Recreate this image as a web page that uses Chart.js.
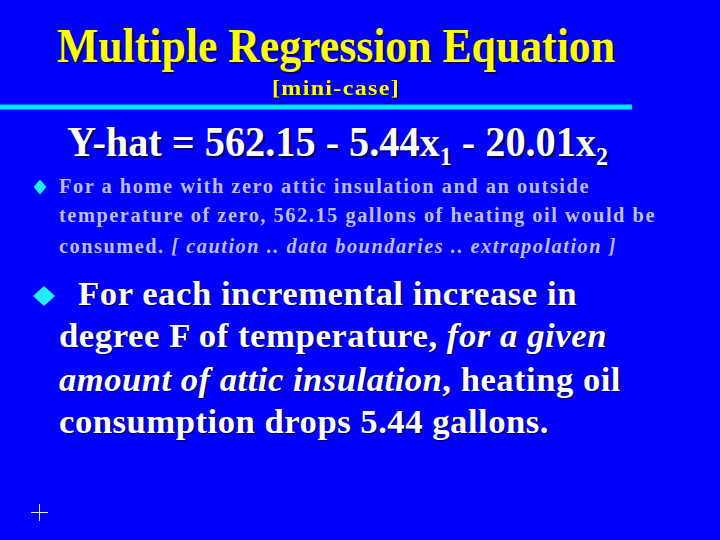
<!DOCTYPE html>
<html>
<head>
<meta charset="utf-8">
<script src="https://cdn.jsdelivr.net/npm/chart.js@4.4.1/dist/chart.umd.min.js"></script>
<style>
  html, body { margin: 0; padding: 0; }
  body { width: 720px; height: 540px; overflow: hidden; background: #0000fe; position: relative;
         font-family: "Liberation Serif", "Times New Roman", serif; }
  .ln { position: absolute; white-space: nowrap; line-height: 1; transform-origin: 0 0; }
  .title { color: #ffff00; font-weight: bold; font-size: 48px; text-shadow: 2px 2px 1px rgba(0,0,40,0.7); }
  .sub { color: #ffff00; font-weight: bold; font-size: 22px; letter-spacing: 1.2px; text-shadow: 1px 1px 1px rgba(0,0,40,0.7); }
  .eq { color: #ffffff; font-weight: bold; font-size: 42px; text-shadow: 2px 2px 1px rgba(0,0,40,0.7); }
  .eq .s { font-size: 25px; position: relative; top: 9px; }
  .b1 { color: #bdbde6; font-weight: bold; font-size: 20px; letter-spacing: 1.5px; }
  .b2 { color: #ffffff; font-weight: bold; font-size: 34px; letter-spacing: 0.5px; text-shadow: 1px 1px 1px rgba(0,0,40,0.8); }
  .dia { position: absolute; background: #22eeff; clip-path: polygon(50% 0, 100% 50%, 50% 100%, 0 50%); }
  #ruleWrap { position: absolute; left: 0; top: 97px; width: 632px; height: 20px; }
  .plus { position: absolute; background: #e8e8ff; }
</style>
</head>
<body>
<div id="ruleWrap"><canvas id="rule" width="632" height="20"></canvas></div>
<div id="slide"></div>
<script>
// ---- content (text lines and coefficients) ----
const titleText = "Multiple Regression Equation";
const subtitleText = "[mini-case]";
const intercept = "562.15";
const coefNames = ["x", "x"];
const coefSubs = ["1", "2"];
const coefValues = ["5.44", "20.01"];
const bullet1Lines = [
  [["For a home with zero attic insulation and an outside", false]],
  [["temperature of zero, 562.15 gallons of heating oil would be", false]],
  [["consumed. ", false], ["[ caution .. data boundaries .. extrapolation ]", true]]
];
const bullet2Lines = [
  [["For each incremental increase in", false]],
  [["degree F of temperature, ", false], ["for a given", true]],
  [["amount of attic insulation", true], [", heating oil", false]],
  [["consumption drops 5.44 gallons.", false]]
];
// decorative rule drawn as a flat line series
const ruleX = [0, 1];
const ruleY = [0, 0];

// ---- layout helpers ----
const slide = document.getElementById('slide');
function addLine(cls, html, x, baseline, fs, targetW) {
  const d = document.createElement('div');
  d.className = 'ln ' + cls;
  d.innerHTML = html;
  d.style.left = x + 'px';
  d.style.top = (baseline - 0.8375 * fs) + 'px';
  d.dataset.w = targetW;
  slide.appendChild(d);
  return d;
}
function seg(parts) {
  return parts.map(p => p[1] ? '<i>' + p[0] + '</i>' : p[0]).join('');
}
function diamond(cx, cy, w, h) {
  const d = document.createElement('div');
  d.className = 'dia';
  d.style.left = (cx - w / 2) + 'px';
  d.style.top = (cy - h / 2) + 'px';
  d.style.width = w + 'px';
  d.style.height = h + 'px';
  slide.appendChild(d);
}

addLine('title', titleText, 57, 62, 48, 558);
addLine('sub', subtitleText, 272, 95, 22, 128);

let eqHtml = 'Y-hat = ' + intercept;
coefValues.forEach((v, i) => {
  eqHtml += ' - ' + v + coefNames[i] + '<span class="s">' + coefSubs[i] + '</span>';
});
addLine('eq', eqHtml, 67, 156, 42, 541);

const b1Base = [193, 222, 253];
const b1W = [531, 597, 558];
bullet1Lines.forEach((l, i) => addLine('b1', seg(l), 59, b1Base[i], 20, b1W[i]));
diamond(40, 187, 13, 15);

const b2Base = [305, 347, 391, 433];
const b2X = [78, 59, 59, 59];
const b2W = [499, 548, 562, 490];
bullet2Lines.forEach((l, i) => addLine('b2', seg(l), b2X[i], b2Base[i], 34, b2W[i]));
diamond(44, 296, 22, 20);

// plus mark bottom-left
const ph = document.createElement('div'); ph.className = 'plus';
ph.style.cssText = 'left:31px;top:512px;width:17px;height:1px;'; slide.appendChild(ph);
const pv = document.createElement('div'); pv.className = 'plus';
pv.style.cssText = 'left:39px;top:504px;width:1px;height:17px;'; slide.appendChild(pv);

function fitAll() {
  document.querySelectorAll('.ln').forEach(d => {
    d.style.transform = 'none';
    const w = d.getBoundingClientRect().width;
    const t = parseFloat(d.dataset.w);
    if (w > 0 && t > 0) d.style.transform = 'scaleX(' + (t / w) + ')';
  });
}
fitAll();
if (document.fonts && document.fonts.ready) document.fonts.ready.then(fitAll);

// ---- Chart.js: cyan rule under the subtitle ----
new Chart(document.getElementById('rule'), {
  type: 'line',
  data: {
    datasets: [{
      data: ruleX.map((x, i) => ({ x: x, y: ruleY[i] })),
      borderColor: '#00e6ff',
      borderWidth: 5,
      borderCapStyle: 'butt',
      pointRadius: 0,
      fill: false
    }]
  },
  options: {
    responsive: false,
    animation: false,
    devicePixelRatio: 1,
    layout: { padding: 0 },
    plugins: { legend: { display: false }, tooltip: { enabled: false } },
    scales: {
      x: { type: 'linear', display: false, min: 0, max: 1 },
      y: { display: false, min: -1, max: 1 }
    }
  }
});
</script>
</body>
</html>
